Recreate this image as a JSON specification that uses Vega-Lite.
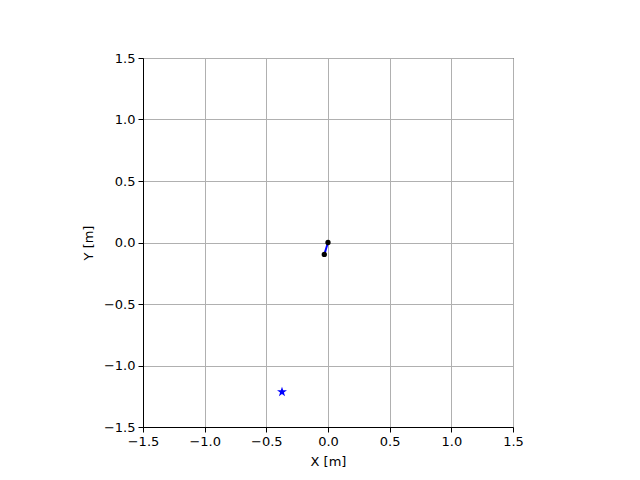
{
  "$schema": "https://vega.github.io/schema/vega-lite/v6.json",
  "width": 370,
  "height": 369,
  "autosize": {"type": "none"},
  "padding": {"left": 143, "top": 58, "right": 127, "bottom": 53},
  "background": "white",
  "config": {
    "view": {"stroke": "black", "strokeWidth": 1},
    "font": "DejaVu Sans",
    "axis": {
      "labelFont": "DejaVu Sans",
      "titleFont": "DejaVu Sans",
      "labelFontSize": 13,
      "titleFontSize": 13,
      "titleFontWeight": "normal",
      "labelColor": "black",
      "titleColor": "black",
      "domainColor": "black",
      "tickColor": "black",
      "tickSize": 5,
      "labelPadding": 3,
      "labelFlush": false,
      "gridColor": "#b0b0b0",
      "gridWidth": 1
    }
  },
  "data": {"values": [
    {"series": "path", "x": 0.0, "y": 0.0, "step": 0},
    {"series": "path", "x": -0.03, "y": -0.097, "step": 1},
    {"series": "goal", "x": -0.373, "y": -1.215, "step": 0}
  ]},
  "encoding": {
    "x": {"field": "x", "type": "quantitative", "scale": {"domain": [-1.5, 1.5], "nice": false, "zero": false},
      "axis": {"title": "X [m]", "orient": "bottom", "values": [-1.5, -1, -0.5, 0, 0.5, 1, 1.5], "format": ".1f", "labelExpr": "replace(datum.label, '-', '\u2212')", "titlePadding": 7, "labelFlush": false}},
    "y": {"field": "y", "type": "quantitative", "scale": {"domain": [-1.5, 1.5], "nice": false, "zero": false},
      "axis": {"title": "Y [m]", "orient": "left", "values": [-1.5, -1, -0.5, 0, 0.5, 1, 1.5], "format": ".1f", "labelExpr": "replace(datum.label, '-', '\u2212')", "titlePadding": 8, "labelFlush": false}}
  },
  "layer": [
    {
      "transform": [{"filter": "datum.series === 'path'"}],
      "mark": {"type": "line", "color": "#0000ff", "strokeWidth": 2},
      "encoding": {"order": {"field": "step", "type": "quantitative"}}
    },
    {
      "transform": [{"filter": "datum.series === 'path'"}],
      "mark": {"type": "point", "filled": true, "color": "black", "size": 28, "opacity": 1}
    },
    {
      "transform": [{"filter": "datum.series === 'goal'"}],
      "mark": {"type": "point", "shape": "M0,-1L0.225,-0.309L0.951,-0.309L0.363,0.118L0.588,0.809L0,0.382L-0.588,0.809L-0.363,0.118L-0.951,-0.309L-0.225,-0.309Z", "filled": true, "color": "#0000ff", "size": 110, "opacity": 1}
    }
  ]
}
